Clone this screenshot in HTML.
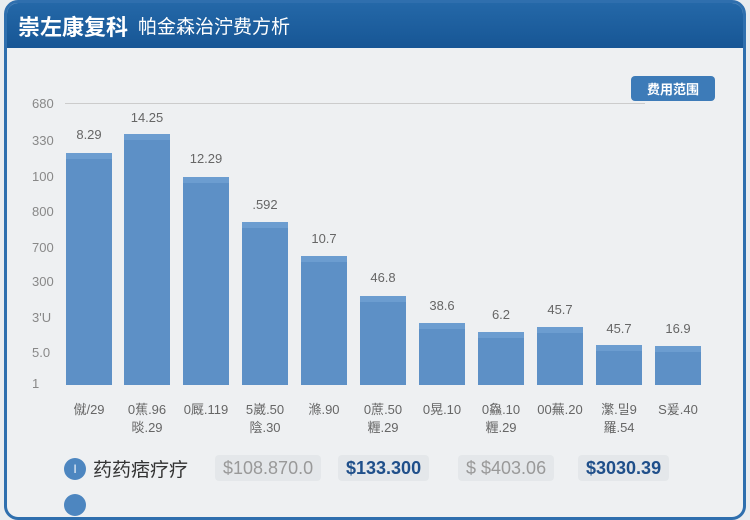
<!DOCTYPE html>
<html><head><meta charset="utf-8"><style>
*{margin:0;padding:0;box-sizing:border-box}
body{width:750px;height:500px;overflow:hidden;background:#e9ecef;font-family:"Liberation Sans","Noto Sans CJK SC",sans-serif;position:relative}
.frame{position:absolute;left:4px;top:0;width:742px;height:520px;border:3px solid #2f6fae;border-radius:14px;background:#eef0f2;overflow:hidden}
.hdr{position:absolute;left:0;top:0;width:100%;height:45px;background:linear-gradient(#2468a8,#175695)}
.t1{position:absolute;left:11px;top:7px;color:#fff;font:bold 22px "Noto Sans CJK SC",sans-serif}
.t2{position:absolute;left:131px;top:9px;color:#fff;font:19px "Noto Sans CJK SC",sans-serif}
.badge{position:absolute;left:631px;top:76px;width:84px;height:25px;background:#3d7bb8;border-radius:4px;color:#fff;font:bold 13px "Noto Sans CJK SC",sans-serif;text-align:center;line-height:25px}
.y{position:absolute;left:32px;color:#888;font-size:13px}
.bar{position:absolute;width:46px;background:#5d90c6;border-top:6px solid #6c9dd0}
.v{position:absolute;width:60px;text-align:center;color:#666;font-size:13px}
.xl{position:absolute;width:70px;text-align:center;color:#666;font-size:13px;line-height:18px}
.pill{position:absolute;top:455px;height:26px;padding:0 8px;background:#e4e7ea;border-radius:4px;font-size:18px;line-height:26px;color:#999}
</style></head><body>
<div class="frame">
<div class="hdr"><div class="t1">崇左康复科</div><div class="t2">帕金森治泞费方析</div></div>
</div>
<div class="badge">费用范围</div>
<div style="position:absolute;left:65px;top:103px;width:580px;height:1px;background:#ccc"></div>
<div class="y" style="top:96px">680</div>
<div class="y" style="top:133px">330</div>
<div class="y" style="top:169px">100</div>
<div class="y" style="top:204px">800</div>
<div class="y" style="top:240px">700</div>
<div class="y" style="top:274px">300</div>
<div class="y" style="top:310px">3'U</div>
<div class="y" style="top:345px">5.0</div>
<div class="y" style="top:376px">1</div>

<div class="bar" style="left:66px;top:153px;height:232px"></div>
<div class="bar" style="left:124px;top:134px;height:251px"></div>
<div class="bar" style="left:183px;top:177px;height:208px"></div>
<div class="bar" style="left:242px;top:222px;height:163px"></div>
<div class="bar" style="left:301px;top:256px;height:129px"></div>
<div class="bar" style="left:360px;top:296px;height:89px"></div>
<div class="bar" style="left:419px;top:323px;height:62px"></div>
<div class="bar" style="left:478px;top:332px;height:53px"></div>
<div class="bar" style="left:537px;top:327px;height:58px"></div>
<div class="bar" style="left:596px;top:345px;height:40px"></div>
<div class="bar" style="left:655px;top:346px;height:39px"></div>

<div class="v" style="left:59px;top:127px">8.29</div>
<div class="v" style="left:117px;top:110px">14.25</div>
<div class="v" style="left:176px;top:151px">12.29</div>
<div class="v" style="left:235px;top:197px">.592</div>
<div class="v" style="left:294px;top:231px">10.7</div>
<div class="v" style="left:353px;top:270px">46.8</div>
<div class="v" style="left:412px;top:298px">38.6</div>
<div class="v" style="left:471px;top:307px">6.2</div>
<div class="v" style="left:530px;top:302px">45.7</div>
<div class="v" style="left:589px;top:321px">45.7</div>
<div class="v" style="left:648px;top:321px">16.9</div>

<div class="xl" style="left:54px;top:401px">僦/29</div>
<div class="xl" style="left:112px;top:401px">0蕉.96<br>晱.29</div>
<div class="xl" style="left:171px;top:401px">0厩.119</div>
<div class="xl" style="left:230px;top:401px">5崴.50<br>陰.30</div>
<div class="xl" style="left:289px;top:401px">滌.90</div>
<div class="xl" style="left:348px;top:401px">0蔗.50<br>糎.29</div>
<div class="xl" style="left:407px;top:401px">0晃.10</div>
<div class="xl" style="left:466px;top:401px">0鱻.10<br>糎.29</div>
<div class="xl" style="left:525px;top:401px">00蕪.20</div>
<div class="xl" style="left:584px;top:401px">瀿.밀9<br>羅.54</div>
<div class="xl" style="left:643px;top:401px">S爰.40</div>

<div style="position:absolute;left:64px;top:458px;width:22px;height:22px;border-radius:50%;background:#4d86c0;color:#fff;font-size:12px;text-align:center;line-height:22px">I</div>
<div style="position:absolute;left:93px;top:455px;font-size:19px;color:#333">药药痞疗疗</div>
<div class="pill" style="left:215px">$108.870.0</div>
<div class="pill" style="left:338px;color:#1f4f8a;font-weight:bold">$133.300</div>
<div class="pill" style="left:458px">$ $403.06</div>
<div class="pill" style="left:578px;color:#1f4f8a;font-weight:bold">$3030.39</div>
<div style="position:absolute;left:64px;top:494px;width:22px;height:22px;border-radius:50%;background:#4d86c0"></div>
</body></html>
